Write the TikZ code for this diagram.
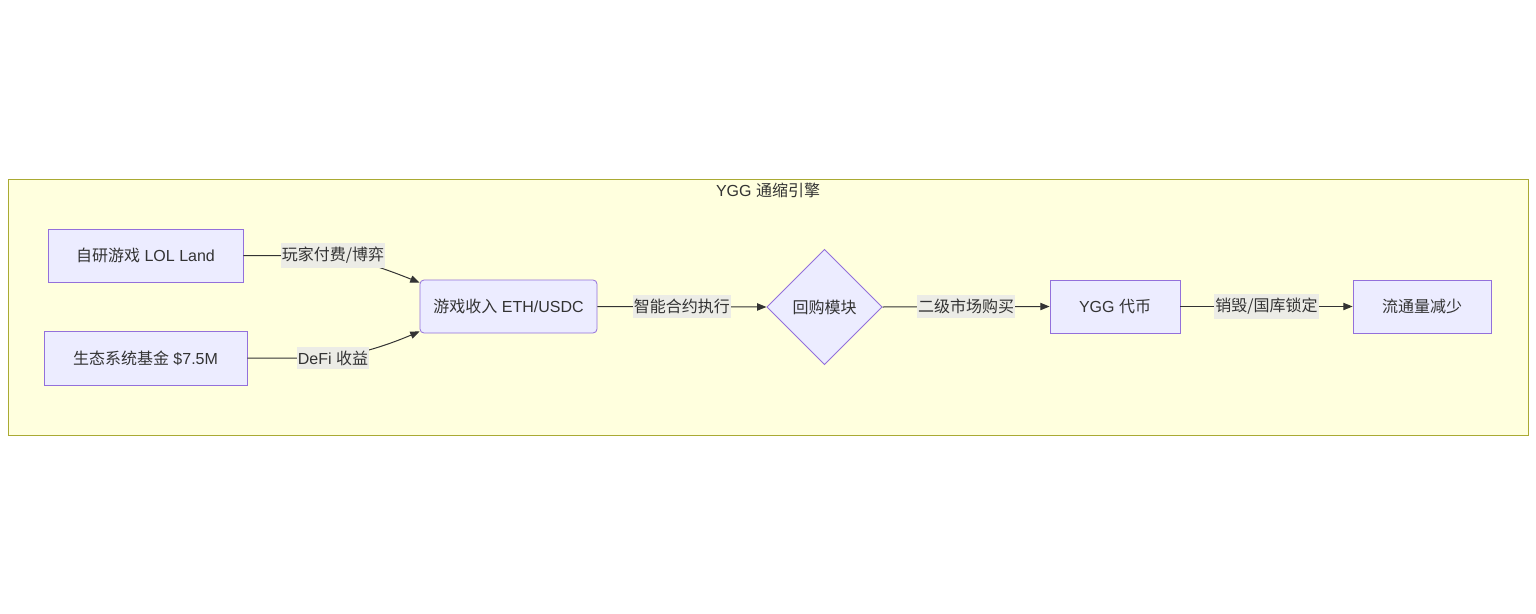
\documentclass[tikz,border=0pt]{standalone}
\usepackage{fontspec}
\setmainfont{Liberation Sans}
\newfontfamily\cjk{Noto Sans CJK SC}
\usetikzlibrary{shapes.geometric,arrows.meta,positioning}
\definecolor{nodefill}{HTML}{ECECFF}
\definecolor{nodeline}{HTML}{9370DB}
\definecolor{clusterfill}{HTML}{FFFFDE}
\definecolor{clusterline}{HTML}{AAAA33}
\definecolor{textgray}{HTML}{333333}
\definecolor{labelfill}{RGB}{236,236,230}

\begin{document}
\begin{tikzpicture}[x=0.75pt, y=-0.75pt,
    box/.style={rectangle, draw=nodeline, fill=nodefill, line width=0.6pt, text=textgray, font=\fontsize{12}{14}\selectfont, inner sep=0pt, minimum height=39.75pt},
    roundbox/.style={box, rounded corners=3pt},
    decision/.style={diamond, draw=nodeline, fill=nodefill, line width=0.6pt, text=textgray, font=\fontsize{12}{14}\selectfont, inner sep=0pt, aspect=1, minimum size=86.5pt},
    cluster/.style={rectangle, draw=clusterline, fill=clusterfill, line width=0.75pt},
    flow/.style={draw=textgray, line width=0.75pt, -{Triangle[length=7pt, width=5.5pt]}},
    edgelabel/.style={fill=labelfill, text=textgray, font=\fontsize{12}{14}\selectfont, inner xsep=1pt, inner ysep=3pt}
]

% Canvas
\useasboundingbox[fill=white] (0,0) rectangle (1536,614);

% Cluster
\node[cluster, minimum width=1140pt, minimum height=192pt] (engine) at (768,307) {};
\node[text=textgray, font=\fontsize{12}{14}\selectfont] (title) at (768,190) {YGG {\cjk 通缩引擎}};

% Sources
\node[box, minimum width=146.25pt] (lol) at (145.5,255.5) {{\cjk 自研游戏} LOL Land};
\node[box, minimum width=152.25pt, minimum height=40.5pt] (fund) at (145.5,358) {{\cjk 生态系统基金} \$7.5M};

% Main chain
\node[roundbox, minimum width=132.75pt] (revenue) at (508.5,306.5) {{\cjk 游戏收入} ETH/USDC};
\node[decision] (buyback) at (824.5,307) {\cjk 回购模块};
\node[box, minimum width=97.5pt] (token) at (1115,306.5) {YGG {\cjk 代币}};
\node[box, minimum width=103.5pt] (supply) at (1422,306.5) {\cjk 流通量减少};

% Curved inputs
\coordinate (lolbend) at (318,255.5);
\coordinate (fundbend) at (318,358);
\draw[flow] (lol.east) -- (lolbend) .. controls (350,255.5) and (388,270) .. ([yshift=-2.25pt]revenue.north west);
\draw[flow] (fund.east) -- (fundbend) .. controls (350,358) and (388,345) .. ([yshift=1.5pt]revenue.south west);
\node[edgelabel] (paylabel) at (333,255.5) {\cjk 玩家付费/博弈};
\node[edgelabel] (defilabel) at (333,358) {DeFi {\cjk 收益}};

% Straight flow
\draw[flow] (revenue.east) -- node[edgelabel] (execlabel) {\cjk 智能合约执行} (buyback.west);
\draw[flow] (buyback.east) -- node[edgelabel] (marketlabel) {\cjk 二级市场购买} (token.west);
\draw[flow] (token.east) -- node[edgelabel] (burnlabel) {\cjk 销毁/国库锁定} (supply.west);

\end{tikzpicture}
\end{document}
